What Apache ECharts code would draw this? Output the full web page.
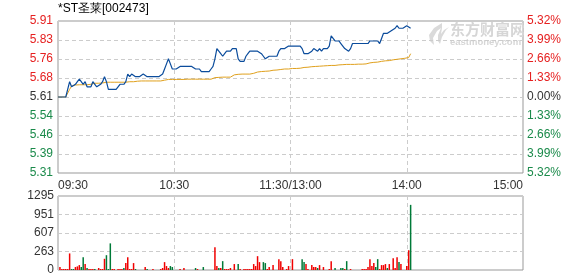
<!DOCTYPE html>
<html><head><meta charset="utf-8">
<script src="https://cdn.jsdelivr.net/npm/echarts@6/dist/echarts.min.js"></script>
<style>html,body{margin:0;padding:0;background:#fff}#c{width:578px;height:276px}</style>
</head><body><div id="c"></div>
<script>
const chartTitle = '*ST圣莱[002473]';
const prevClose = 5.61;
const pctMax = 5.32;
const priceLabels = ['5.31','5.39','5.46','5.54','5.61','5.68','5.76','5.83','5.91'];
const pctLabels = ['5.32%','3.99%','2.66%','1.33%','0.00%','1.33%','2.66%','3.99%','5.32%'];
const timeLabels = ['09:30','10:30','11:30/13:00','14:00','15:00'];
const volLabels = ['0','263','607','951','1295'];
const volMax = 1295;

const price = [
5.61,5.61,5.61,5.61,5.61,5.61,5.67,5.65,5.65,5.66,
5.67,5.68,5.67,5.66,5.67,5.65,5.65,5.65,5.67,5.66,
5.65,5.65,5.66,5.67,5.69,5.67,5.64,5.64,5.64,5.64,
5.64,5.64,5.66,5.66,5.66,5.67,5.70,5.69,5.70,5.70,
5.69,5.69,5.69,5.69,5.70,5.70,5.69,5.69,5.69,5.69,
5.69,5.69,5.69,5.69,5.70,5.72,5.74,5.76,5.74,5.72,
5.72,5.72,5.72,5.73,5.73,5.73,5.73,5.73,5.73,5.73,
5.73,5.72,5.72,5.72,5.71,5.71,5.71,5.71,5.71,5.72,
5.73,5.76,5.80,5.79,5.78,5.77,5.78,5.79,5.79,5.79,
5.80,5.80,5.80,5.76,5.75,5.75,5.75,5.77,5.78,5.79,
5.79,5.79,5.79,5.79,5.79,5.78,5.77,5.76,5.76,5.77,
5.77,5.77,5.77,5.77,5.79,5.80,5.80,5.80,5.80,5.81,
5.81,5.81,5.81,5.81,5.81,5.81,5.80,5.78,5.78,5.78,
5.78,5.79,5.80,5.80,5.79,5.80,5.79,5.80,5.80,5.80,
5.81,5.85,5.84,5.83,5.83,5.83,5.82,5.81,5.80,5.80,
5.79,5.80,5.82,5.82,5.82,5.82,5.82,5.82,5.82,5.82,
5.82,5.83,5.83,5.83,5.83,5.83,5.82,5.84,5.86,5.86,
5.86,5.86,5.87,5.87,5.88,5.89,5.88,5.88,5.88,5.88,
5.89,5.89,5.88
];
const avgPrice = [
5.610,5.610,5.610,5.610,5.610,5.610,5.640,5.653,5.656,5.657,
5.657,5.658,5.658,5.658,5.658,5.658,5.659,5.660,5.663,5.664,
5.664,5.664,5.664,5.665,5.667,5.668,5.668,5.668,5.668,5.668,
5.668,5.668,5.668,5.668,5.668,5.668,5.670,5.670,5.670,5.670,
5.671,5.672,5.673,5.673,5.673,5.673,5.673,5.673,5.673,5.673,
5.673,5.673,5.673,5.673,5.674,5.676,5.678,5.679,5.679,5.679,
5.679,5.679,5.679,5.679,5.679,5.679,5.680,5.680,5.680,5.680,
5.680,5.680,5.680,5.680,5.680,5.680,5.680,5.680,5.680,5.680,
5.681,5.686,5.687,5.687,5.688,5.688,5.688,5.688,5.688,5.688,
5.689,5.697,5.699,5.699,5.700,5.700,5.700,5.700,5.700,5.700,
5.701,5.703,5.705,5.708,5.709,5.710,5.711,5.711,5.712,5.712,
5.713,5.715,5.716,5.716,5.717,5.718,5.719,5.720,5.720,5.720,
5.721,5.722,5.722,5.722,5.723,5.723,5.725,5.726,5.727,5.727,
5.728,5.729,5.730,5.730,5.731,5.731,5.732,5.732,5.732,5.733,
5.733,5.734,5.734,5.734,5.734,5.736,5.736,5.737,5.737,5.738,
5.738,5.738,5.738,5.738,5.739,5.739,5.739,5.739,5.740,5.740,
5.742,5.744,5.745,5.746,5.746,5.747,5.748,5.750,5.751,5.752,
5.752,5.753,5.754,5.756,5.757,5.758,5.759,5.760,5.761,5.762,
5.762,5.765,5.780
];
// minute index, volume, direction (1 = up / red, -1 = down / green)
const volIdx = [1,2,3,4,5,6,7,8,9,10,11,12,13,14,15,16,17,18,19,21,22,23,24,25,26,27,28,29,31,32,33,34,35,36,37,38,39,40,45,46,49,53,54,55,56,57,58,59,63,65,71,72,75,81,82,83,84,85,86,87,88,89,91,93,94,96,97,98,99,100,101,102,103,104,106,107,108,109,111,114,115,116,118,119,121,126,127,128,129,131,132,133,134,135,137,140,141,143,146,147,148,149,151,157,158,159,160,161,162,163,164,165,166,167,168,169,170,171,173,174,175,176,177,180,181,182];
const volAmt = [52,17,17,17,17,290,17,17,52,63,86,52,225,104,35,17,17,17,17,35,17,17,196,259,17,466,17,17,17,17,17,35,121,225,17,17,121,17,52,17,17,17,35,138,69,35,69,52,17,35,35,17,52,397,69,35,35,155,17,17,17,35,104,104,17,17,17,17,17,17,104,69,242,138,138,121,17,52,86,190,155,52,17,69,190,190,138,104,17,86,52,52,35,86,52,17,155,35,35,35,17,155,17,17,17,17,52,190,69,121,52,190,17,86,86,104,35,104,207,35,225,138,104,69,346,1140];
const volDir = [1,1,1,1,1,1,-1,-1,1,1,1,-1,-1,1,-1,1,1,1,-1,1,1,1,1,-1,-1,-1,1,1,1,1,1,-1,1,1,1,1,1,-1,1,-1,1,1,1,1,1,1,-1,-1,1,1,-1,1,-1,1,1,-1,1,-1,1,1,1,1,1,-1,1,1,1,1,1,1,1,1,1,1,-1,-1,1,1,1,1,1,1,1,1,1,-1,-1,1,1,1,1,1,-1,1,1,1,1,-1,-1,-1,1,-1,1,1,1,1,1,1,1,1,-1,-1,1,1,1,1,-1,1,1,1,1,-1,1,1,1,-1];

const RED = '#e62020', GREEN = '#1a8a4a', GRAY = '#333';
const FONT = 'Liberation Sans';
const range = prevClose * pctMax / 100;
const yMin = prevClose - range, yMax = prevClose + range, yStep = range / 4;
const priceTicks = priceLabels.map((_, k) => yMin + k * yStep);
const volTicks = volLabels.map((_, k) => volMax * k / 4);
const tickIdx = v => Math.round((parseFloat(v) - yMin) / yStep);
const sideColor = v => { const k = tickIdx(v); return k > 4 ? RED : (k < 4 ? GREEN : GRAY); };

const dashed = { show: true, lineStyle: { color: '#cccccc', type: [4, 3], width: 1 } };

const chart = echarts.init(document.getElementById('c'), null, { renderer: 'canvas' });
chart.setOption({
  animation: false,
  backgroundColor: '#fff',
  title: { text: chartTitle, left: 58, top: 3, padding: 0,
    textStyle: { fontSize: 12, fontWeight: 'normal', color: '#000', fontFamily: FONT } },
  graphic: [
    { type: 'polygon', silent: true,
      shape: { points: [[442,23],[434,28],[429,35],[430,41],[434,45],[433,38],[437,31],[441,28],[438,35],[438,41],[440,44],[442,37],[446,30],[449,27],[444,30],[441,34],[442,28]] },
      style: { fill: '#dadada' } },
    { type: 'text', left: 450, top: 22, silent: true,
      style: { text: '东方财富网', fontSize: 15, fontWeight: 'bold', fill: '#d6d6d6', fontFamily: 'Noto Sans CJK SC' } },
    { type: 'text', left: 450, top: 37, silent: true,
      style: { text: 'eastmoney.com', fontSize: 9.5, fontWeight: 'bold', fill: '#d6d6d6', fontFamily: FONT } }
  ],
  grid: [
    { left: 58, top: 21, width: 465, height: 152, show: true, borderColor: '#999', borderWidth: 1, backgroundColor: 'transparent' },
    { left: 58, top: 196, width: 465, height: 75, show: true, borderColor: '#999', borderWidth: 1, backgroundColor: 'transparent' }
  ],
  xAxis: [
    { type: 'value', gridIndex: 0, min: 0, max: 240, interval: 60,
      axisLine: { show: false }, axisTick: { show: false },
      axisLabel: { show: true, margin: 7, color: GRAY, fontSize: 12, fontFamily: FONT,
        showMinLabel: true, showMaxLabel: true, alignMinLabel: 'left', alignMaxLabel: 'right',
        formatter: v => timeLabels[Math.round(v / 60)] },
      splitLine: dashed },
    { type: 'value', gridIndex: 1, min: 0, max: 240, interval: 60,
      axisLine: { show: false }, axisTick: { show: false }, axisLabel: { show: false },
      splitLine: dashed }
  ],
  yAxis: [
    { type: 'value', gridIndex: 0, min: yMin, max: yMax, position: 'left',
      axisLine: { show: false }, axisTick: { show: false, customValues: priceTicks },
      axisLabel: { customValues: priceTicks, margin: 5, fontSize: 12, fontFamily: FONT,
        showMinLabel: true, showMaxLabel: true,
        color: v => sideColor(v), formatter: v => priceLabels[tickIdx(v)] },
      splitLine: dashed },
    { type: 'value', gridIndex: 0, min: yMin, max: yMax, position: 'right',
      axisLine: { show: false }, axisTick: { show: false, customValues: priceTicks },
      axisLabel: { customValues: priceTicks, margin: 4, fontSize: 12, fontFamily: FONT,
        showMinLabel: true, showMaxLabel: true,
        color: v => sideColor(v), formatter: v => pctLabels[8 - tickIdx(v)] },
      splitLine: { show: false } },
    { type: 'value', gridIndex: 1, min: 0, max: volMax, position: 'left',
      axisLine: { show: false }, axisTick: { show: false, customValues: volTicks },
      axisLabel: { customValues: volTicks, margin: 4, fontSize: 12, fontFamily: FONT, color: GRAY,
        showMinLabel: true, showMaxLabel: true,
        formatter: v => volLabels[Math.round(v / volMax * 4)] },
      splitLine: dashed }
  ],
  series: [
    { type: 'line', xAxisIndex: 0, yAxisIndex: 0, showSymbol: false, symbol: 'none',
      data: avgPrice.map((p, i) => [i, p]),
      lineStyle: { color: '#e0a01c', width: 1 }, z: 3 },
    { type: 'line', xAxisIndex: 0, yAxisIndex: 0, showSymbol: false, symbol: 'none',
      data: price.map((p, i) => [i, p]),
      lineStyle: { color: '#0b4c9c', width: 1.2 }, z: 4 },
    { type: 'bar', xAxisIndex: 1, yAxisIndex: 2, barWidth: 1.5,
      data: volIdx.map((x, k) => ({ value: [x, volAmt[k]],
        itemStyle: { color: volDir[k] > 0 ? '#f00000' : '#007a38' } })) }
  ]
});
</script></body></html>
